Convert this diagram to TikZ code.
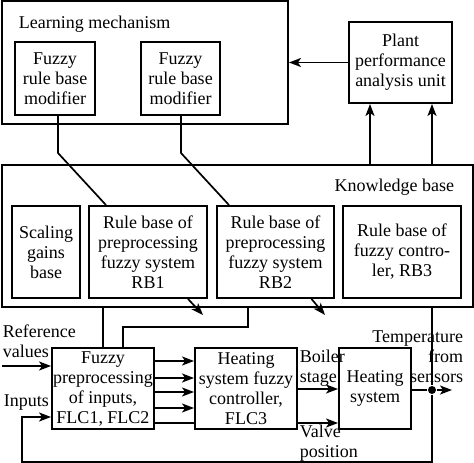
\documentclass[tikz,border=0pt]{standalone}
\usepackage{fontspec}
\setmainfont{Liberation Serif}
\usetikzlibrary{positioning,calc,arrows.meta}
\tikzset{blk/.style={draw,line width=1.9pt,align=center,inner sep=0pt}  }
\tikzset{lbl/.style={inner sep=0pt}  }
\tikzset{>={Stealth[length=12pt,width=9pt,inset=3pt]}}

\begin{document}
\begin{tikzpicture}[x=1pt,y=-1pt,line width=1.7pt,font=\fontsize{18}{20}\selectfont]
		\useasboundingbox (0,0) rectangle (474,463);
		\node[blk,minimum width=286pt,minimum height=123pt] (learn) at (145,62.5) {};
		\node[lbl,anchor=base west] (learnt) at (18,28) {Learning mechanism};
			\node[blk,minimum width=80pt,minimum height=73pt] (mod1) at (55,78.5) {Fuzzy\\rule base\\modifier};
			\node[blk,minimum width=79pt,minimum height=73pt] (mod2) at (180.5,78.5) {Fuzzy\\rule base\\modifier};
		\node[blk,minimum width=103pt,minimum height=81pt] (plant) at (400.5,62.5) {Plant\\performance\\analysis unit};

		\node[blk,minimum width=471pt,minimum height=142pt] (kb) at (237.5,236) {};
		\node[lbl,anchor=base east] (kbt) at (455,191) {Knowledge base};
			\node[blk,minimum width=68pt,minimum height=92pt] (scale) at (46,252) {Scaling\\gains\\base};
			\node[blk,minimum width=118pt,minimum height=92pt] (rb1) at (148,252) {Rule base of\\preprocessing\\fuzzy system\\RB1};
			\node[blk,minimum width=117pt,minimum height=92pt] (rb2) at (275.5,252) {Rule base of\\preprocessing\\fuzzy system\\RB2};
			\node[blk,minimum width=118pt,minimum height=92pt] (rb3) at (402,252) {Rule base of\\fuzzy contro-\\ler, RB3};

		\node[blk,minimum width=102pt,minimum height=81pt] (flc12) at (103,388.5) {Fuzzy\\preprocessing\\of inputs,\\FLC1, FLC2};
		\node[blk,minimum width=102pt,minimum height=81pt] (flc3) at (246,388.5) {Heating\\system fuzzy\\controller,\\FLC3};
		\node[blk,minimum width=72pt,minimum height=81pt] (heat) at (375,388.5) {Heating\\system};
		\node[circle,fill=black,inner sep=0pt,minimum size=8pt] (dot) at (432,390) {};

		\coordinate (m1) at (58,153);
		\coordinate (m2) at (181,153);
		\coordinate (r1) at (106,0);
		\coordinate (r2) at (229,0);
		\coordinate (a1) at (203,315);
		\coordinate (a2) at (325,315);
		\coordinate (p1) at (370,0);
		\coordinate (q) at (248,327);
		\coordinate (qq) at (123,327);
		\coordinate (ref) at (2,366);
		\coordinate (out) at (452,390);
		\coordinate (fb) at (22,462);

		\draw (mod1.south -| m1) -- (m1) -- (rb1.north -| r1);
		\draw (mod2.south -| m2) -- (m2) -- (rb2.north -| r2);
		\draw[->] ([xshift=40pt]rb1.south) -- (a1);
		\draw[->] ([xshift=36pt]rb2.south) -- (a2);
		\draw[->] (kb.north -| p1) -- (plant.south -| p1);
		\draw[->] (kb.north -| dot) -- (plant.south -| dot);
		\draw[->] (plant.west) -- (learn.east |- plant.west);

		\draw (kb.south -| flc12.north) -- (flc12.north);
		\draw (kb.south -| q) -- (q) -- (qq) -- (flc12.north -| qq);
		\draw[->] (ref) -- (flc12.west |- ref);
		\foreach \y in {361,378,392,408}
			\draw[->] (flc12.east |- 0,\y) -- (flc3.west |- 0,\y);
		\draw (flc12.east |- 0,423) -- (flc3.west |- 0,423);
		\draw[->] (flc3.east |- 0,389) -- (heat.west |- 0,389);
		\draw[->] (flc3.east |- 0,423) -- (heat.west |- 0,423);
		\draw (heat.east |- dot) -- (dot);
		\draw[->] (dot) -- (out);
		\draw (kb.south -| dot) -- (dot);
		\draw[->] (dot) |- (fb) |- (flc12.west |- 0,417);

		\node[lbl,anchor=north west,align=left] (reft) at (2,324) {Reference\\values};
		\node[lbl,anchor=base west] (inp) at (3,406) {Inputs};
		\node[lbl,anchor=north west,align=left] (boil) at (299,349) {Boiler\\stage};
		\node[lbl,anchor=north west,align=left] (valve) at (299,424) {Valve\\position};
		\node[lbl,anchor=north east,align=right] (temp) at (464,330) {Temperature\\from\\sensors};
\end{tikzpicture}
\end{document}
